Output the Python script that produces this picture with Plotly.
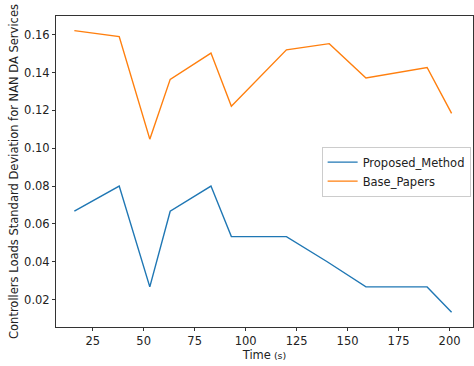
import plotly.graph_objects as go

time_proposed = [16, 38, 53, 63, 83, 93, 120, 140, 159, 189, 201]
proposed_method = [0.0667, 0.0800, 0.0267, 0.0667, 0.0800, 0.0533, 0.0533, 0.0400, 0.0267, 0.0267, 0.0133]

time_base = [16, 38, 53, 63, 83, 93, 120, 141, 159, 189, 201]
base_papers = [0.1622, 0.1590, 0.1048, 0.1364, 0.1503, 0.1222, 0.1520, 0.1553, 0.1371, 0.1427, 0.1184]

x_ticks = [25, 50, 75, 100, 125, 150, 175, 200]
y_ticks = [0.02, 0.04, 0.06, 0.08, 0.10, 0.12, 0.14, 0.16]
y_tick_labels = ["0.02", "0.04", "0.06", "0.08", "0.10", "0.12", "0.14", "0.16"]

FONT = "DejaVu Sans"
FS = 11.5
fig = go.Figure()
fig.add_trace(go.Scatter(x=time_proposed, y=proposed_method, mode="lines", name="Proposed_Method",
                         line=dict(color="#1f77b4", width=1.4)))
fig.add_trace(go.Scatter(x=time_base, y=base_papers, mode="lines", name="Base_Papers",
                         line=dict(color="#ff7f0e", width=1.4)))

axis_common = dict(showgrid=False, zeroline=False, showline=True, linecolor="#333333", linewidth=1,
                   mirror=True, ticks="outside", ticklen=3, tickcolor="#333333",
                   tickfont=dict(family=FONT, size=FS, color="#222222"))

fig.update_layout(
    width=474, height=366,
    margin=dict(l=56, r=1, t=16, b=39),
    paper_bgcolor="white", plot_bgcolor="white",
    showlegend=True,
    legend=dict(x=0.637, y=0.58, xanchor="left", yanchor="top",
                bgcolor="rgba(255,255,255,0.8)", bordercolor="#cccccc", borderwidth=1,
                font=dict(family=FONT, size=FS, color="#222222"), itemwidth=30,
                tracegroupgap=0),
    xaxis=dict(range=[7.0, 211.5], tickvals=x_ticks,
               title=dict(text="Time<span style='font-size:9.5px'> (s)</span>", standoff=2,
                          font=dict(family=FONT, size=FS, color="#222222")),
               **axis_common),
    yaxis=dict(range=[0.0055, 0.1699], tickvals=y_ticks, ticktext=y_tick_labels,
               title=dict(text="Controllers Loads Standard Deviation for NAN DA Services", standoff=3,
                          font=dict(family=FONT, size=FS, color="#222222")),
               **axis_common),
)

fig.write_html("out.html")
